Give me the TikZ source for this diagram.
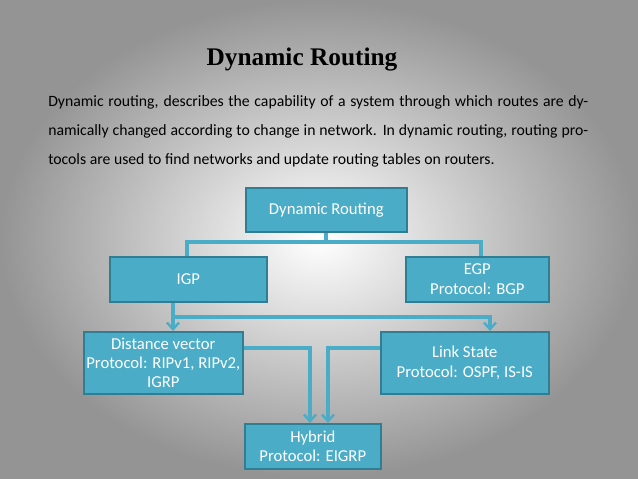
\documentclass[tikz,border=0pt]{standalone}
\usepackage{fontspec}
\setmainfont{Carlito}
\newfontfamily\titlefont{Liberation Serif}
\usetikzlibrary{arrows.meta}
\definecolor{boxfill}{HTML}{4AACC6}
\definecolor{boxline}{HTML}{2F7E94}
\begin{document}
\begin{tikzpicture}[x=0.75pt,y=-0.75pt,
  box/.style={draw=boxline, line width=1.2pt, fill=boxfill, text=white, align=center,
    font=\fontsize{12.5}{14.5}\selectfont, inner sep=0pt, anchor=north west},
  link/.style={draw=boxfill, line width=2.6pt},
  arr/.style={link, -{Straight Barb[length=5pt,width=9pt,line width=1.8pt]}}]
% background
\shade[inner color=white, outer color=black!42] (0,0) rectangle (638,478);
\useasboundingbox (0,0) rectangle (638,478);
% title and text
\node[font=\titlefont\bfseries\fontsize{19}{22}\selectfont] (title) at (302,60) {Dynamic Routing};
\node[anchor=north west, text width=405pt, align=justify, inner sep=0pt,
  font=\fontsize{11.8}{21.9}\selectfont] (text) at (48,95)
  {Dynamic routing, describes the capability of a system through which routes are dynamically changed according to change in network. In dynamic routing, routing protocols are used to find networks and update routing tables on routers.};
% boxes
\node[box, minimum width=120.75pt, minimum height=33pt] (dr) at (245,187) {Dynamic Routing};
\node[box, minimum width=117.75pt, minimum height=33.75pt] (igp) at (109,256) {IGP};
\node[box, minimum width=107.25pt, minimum height=33.75pt] (egp) at (405,256) {EGP\\Protocol: BGP};
\node[box, minimum width=119.25pt, minimum height=46.5pt] (dv) at (83,331) {Distance vector\\Protocol: RIPv1, RIPv2,\\IGRP};
\node[box, minimum width=126pt, minimum height=46.5pt] (ls) at (380,331) {Link State\\Protocol: OSPF, IS-IS};
\node[box, minimum width=102pt, minimum height=33.75pt] (hy) at (244,423) {Hybrid\\Protocol: EIGRP};
% connectors
\coordinate (j1) at (326,242);
\coordinate (j2) at (173,317);
\coordinate (l1) at (187,0);
\coordinate (l2) at (481,0);
\coordinate (l3) at (490,0);
\coordinate (h1) at (310,348);
\coordinate (h2) at (328,348);
\draw[link] (dr.south -| j1) -- (j1);
\draw[link] (l1 |- igp.north) |- (j1) -| (l2 |- egp.north);
\draw[link] (j2 |- igp.south) -- (j2);
\draw[arr] (j2) -- (j2 |- dv.north);
\draw[arr] (j2) -| (l3 |- ls.north);
\draw[arr] (dv.east |- h1) -| (h1 |- hy.north);
\draw[arr] (ls.west |- h2) -| (h2 |- hy.north);
\end{tikzpicture}
\end{document}
